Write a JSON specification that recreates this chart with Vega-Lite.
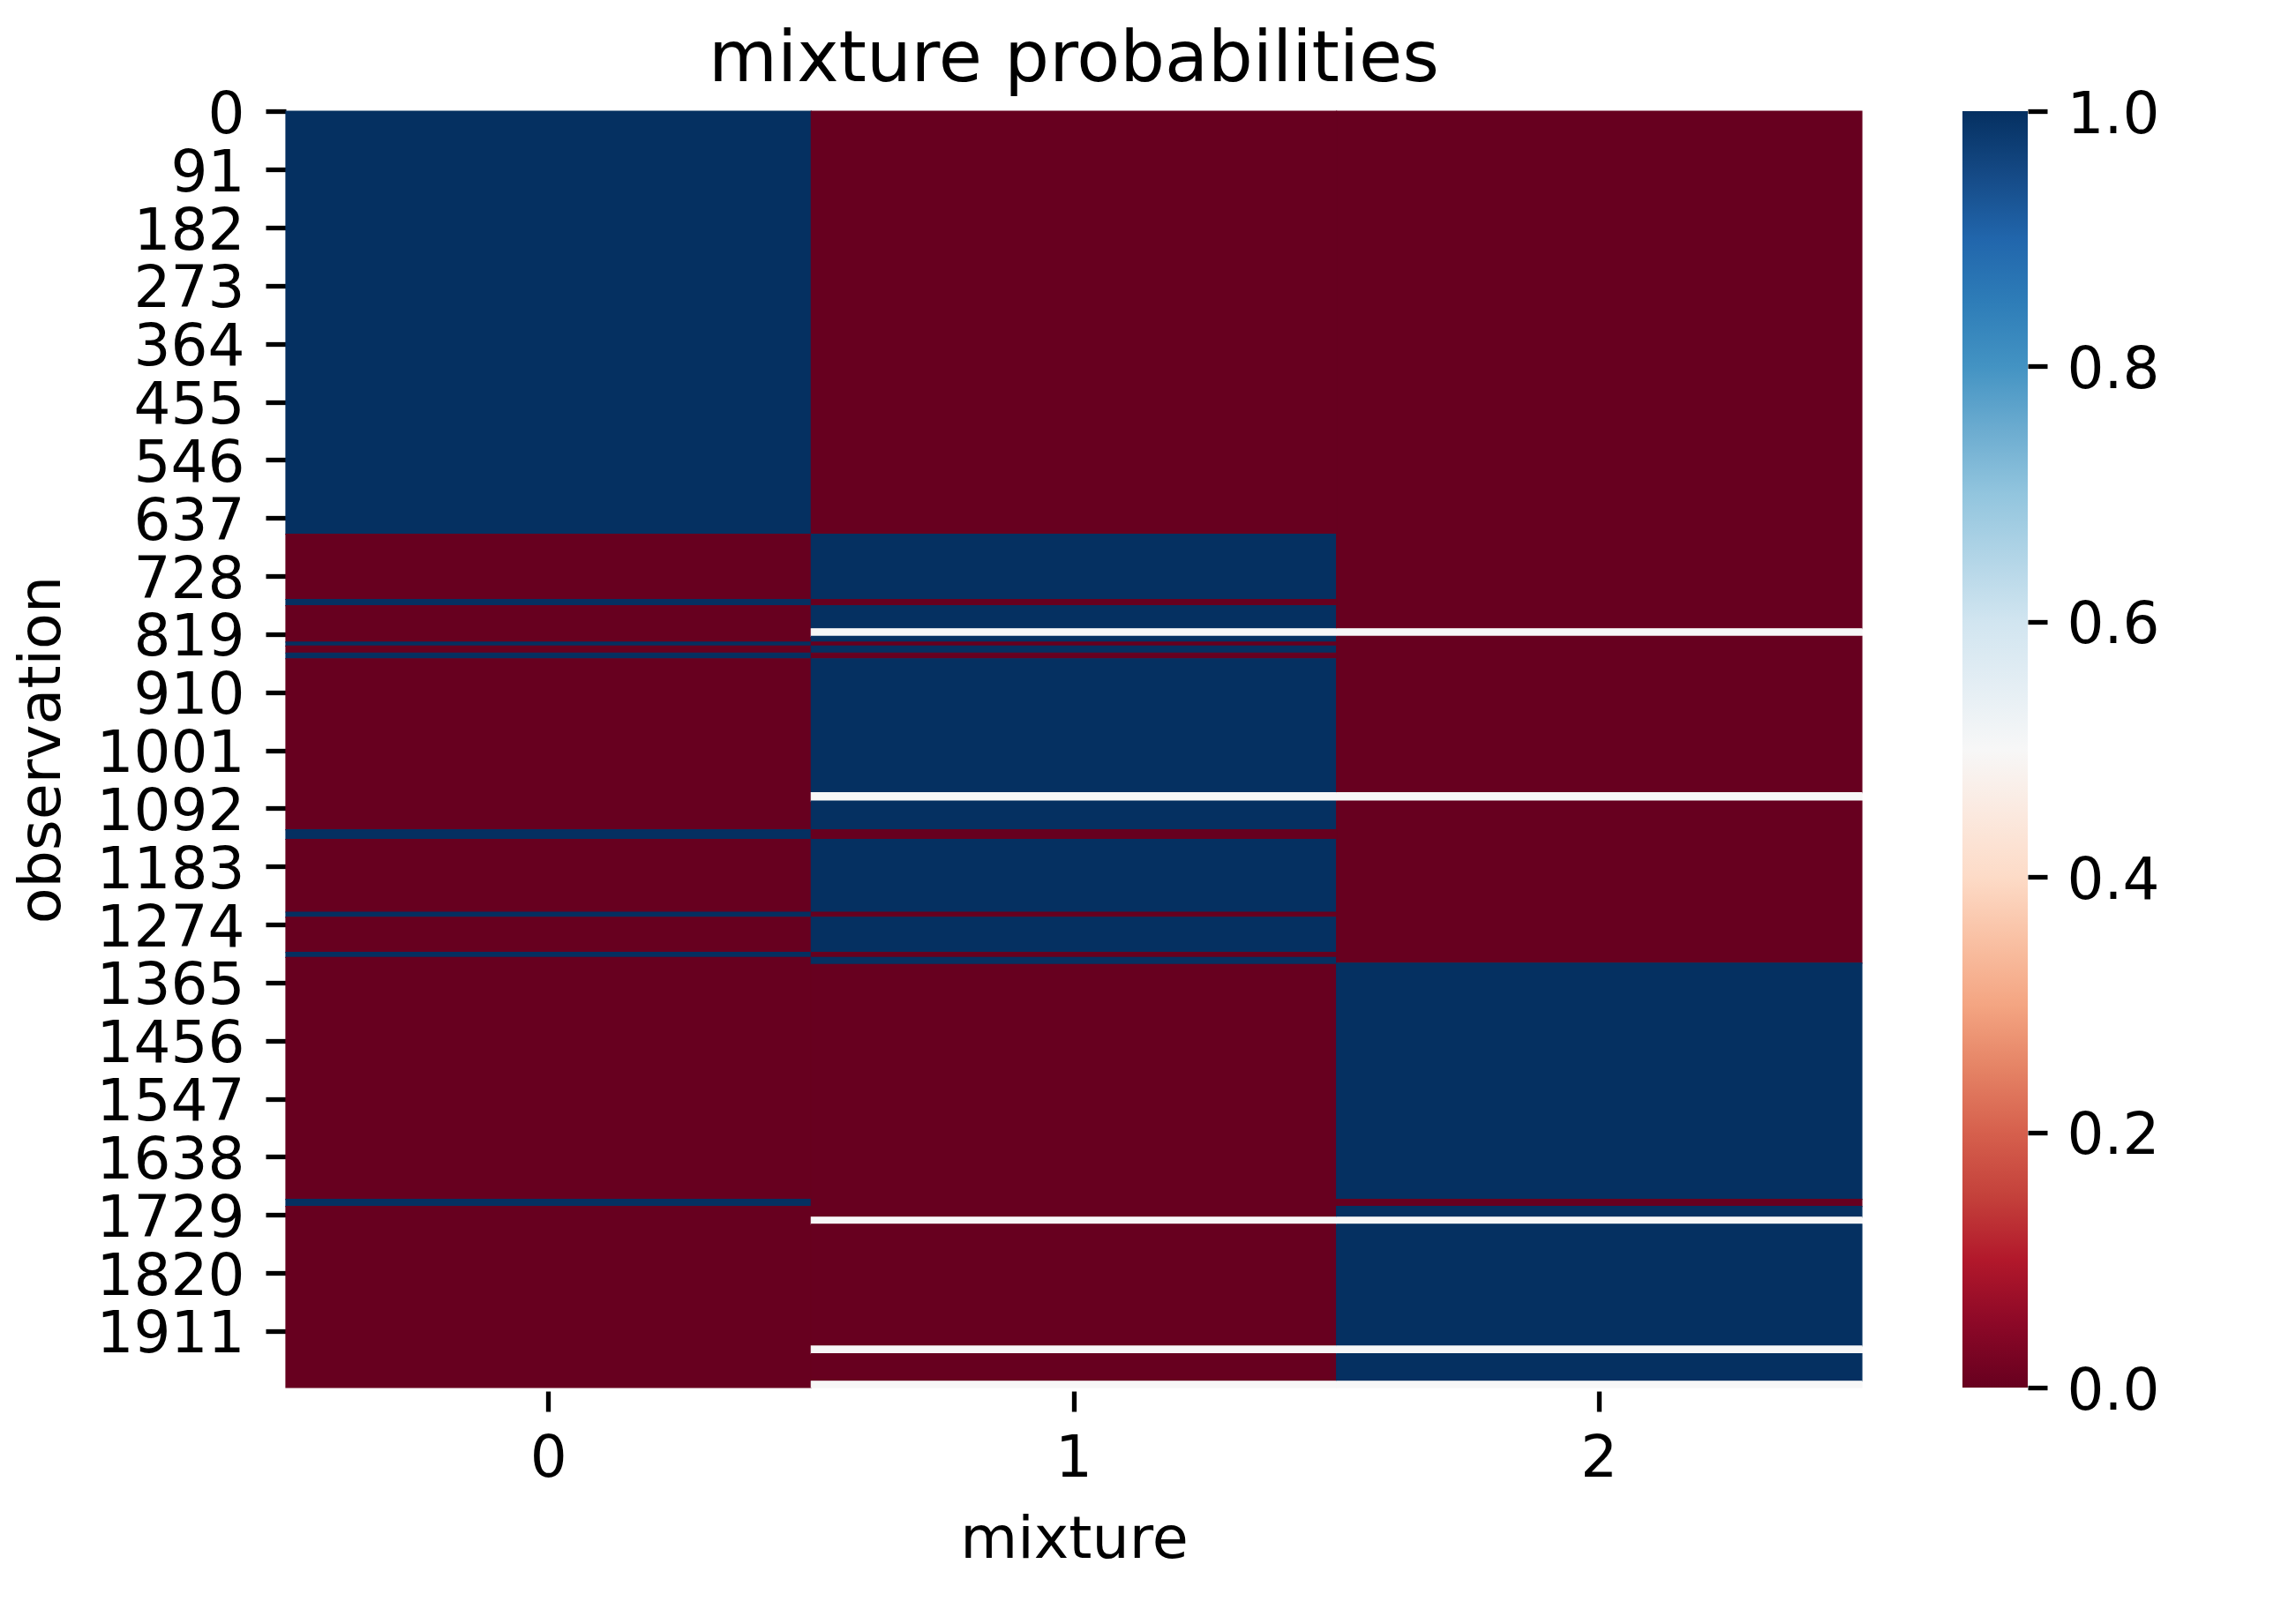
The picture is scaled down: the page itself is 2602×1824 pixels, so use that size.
{
  "$schema": "https://vega.github.io/schema/vega-lite/v6.json",
  "autosize": {"type": "none"},
  "padding": {"left": 324, "top": 126, "right": 492, "bottom": 251},
  "width": 1786,
  "height": 1447,
  "background": "white",
  "config": {
    "font": "DejaVu Sans",
    "view": {"stroke": null},
    "axis": {"grid": false, "domain": false, "labelColor": "black", "titleColor": "black", "tickColor": "black", "labelFont": "DejaVu Sans", "titleFont": "DejaVu Sans", "labelFontSize": 66, "titleFontSize": 66.7, "titleFontWeight": "normal", "tickSize": 23, "tickWidth": 5.3, "labelOverlap": false}
  },
  "title": {"text": "mixture probabilities", "fontSize": 80, "fontWeight": "normal", "font": "DejaVu Sans", "color": "black", "anchor": "middle", "frame": "group", "offset": -12},
  "data": {"values": [
    {"m": 0, "from": 0, "to": 663, "p": 1},
    {"m": 0, "from": 663, "to": 765, "p": 0},
    {"m": 0, "from": 765, "to": 775, "p": 1},
    {"m": 0, "from": 775, "to": 832, "p": 0},
    {"m": 0, "from": 832, "to": 838, "p": 1},
    {"m": 0, "from": 838, "to": 849, "p": 0},
    {"m": 0, "from": 849, "to": 858, "p": 1},
    {"m": 0, "from": 858, "to": 1126, "p": 0},
    {"m": 0, "from": 1126, "to": 1141, "p": 1},
    {"m": 0, "from": 1141, "to": 1255, "p": 0},
    {"m": 0, "from": 1255, "to": 1263, "p": 1},
    {"m": 0, "from": 1263, "to": 1318, "p": 0},
    {"m": 0, "from": 1318, "to": 1326, "p": 1},
    {"m": 0, "from": 1326, "to": 1705, "p": 0},
    {"m": 0, "from": 1705, "to": 1716, "p": 1},
    {"m": 0, "from": 1716, "to": 2000, "p": 0},
    {"m": 1, "from": 0, "to": 663, "p": 0},
    {"m": 1, "from": 663, "to": 765, "p": 1},
    {"m": 1, "from": 765, "to": 775, "p": 0},
    {"m": 1, "from": 775, "to": 811, "p": 1},
    {"m": 1, "from": 811, "to": 823, "p": 0.5},
    {"m": 1, "from": 823, "to": 832, "p": 1},
    {"m": 1, "from": 832, "to": 838, "p": 0},
    {"m": 1, "from": 838, "to": 849, "p": 1},
    {"m": 1, "from": 849, "to": 858, "p": 0},
    {"m": 1, "from": 858, "to": 1068, "p": 1},
    {"m": 1, "from": 1068, "to": 1081, "p": 0.5},
    {"m": 1, "from": 1081, "to": 1126, "p": 1},
    {"m": 1, "from": 1126, "to": 1141, "p": 0},
    {"m": 1, "from": 1141, "to": 1255, "p": 1},
    {"m": 1, "from": 1255, "to": 1263, "p": 0},
    {"m": 1, "from": 1263, "to": 1318, "p": 1},
    {"m": 1, "from": 1318, "to": 1326, "p": 0},
    {"m": 1, "from": 1326, "to": 1337, "p": 1},
    {"m": 1, "from": 1337, "to": 1733, "p": 0},
    {"m": 1, "from": 1733, "to": 1744, "p": 0.5},
    {"m": 1, "from": 1744, "to": 1935, "p": 0},
    {"m": 1, "from": 1935, "to": 1947, "p": 0.5},
    {"m": 1, "from": 1947, "to": 1990, "p": 0},
    {"m": 1, "from": 1990, "to": 2000, "p": 0.5},
    {"m": 2, "from": 0, "to": 811, "p": 0},
    {"m": 2, "from": 811, "to": 823, "p": 0.5},
    {"m": 2, "from": 823, "to": 1068, "p": 0},
    {"m": 2, "from": 1068, "to": 1081, "p": 0.5},
    {"m": 2, "from": 1081, "to": 1335, "p": 0},
    {"m": 2, "from": 1335, "to": 1705, "p": 1},
    {"m": 2, "from": 1705, "to": 1716, "p": 0},
    {"m": 2, "from": 1716, "to": 1733, "p": 1},
    {"m": 2, "from": 1733, "to": 1744, "p": 0.5},
    {"m": 2, "from": 1744, "to": 1935, "p": 1},
    {"m": 2, "from": 1935, "to": 1947, "p": 0.5},
    {"m": 2, "from": 1947, "to": 1990, "p": 1},
    {"m": 2, "from": 1990, "to": 2000, "p": 0.5}
  ]},
  "layer": [
    {
      "mark": {"type": "rect", "strokeWidth": 1.2, "stroke": {"expr": "scale('color', datum.p)"}},
      "encoding": {
        "x": {"field": "m", "type": "ordinal", "scale": {"paddingInner": 0, "paddingOuter": 0},
              "axis": {"title": "mixture", "labelAngle": 0, "offset": 4, "labelPadding": 21, "titlePadding": 26}},
        "y": {"field": "from", "type": "quantitative",
              "scale": {"domain": [0, 2000], "reverse": true, "nice": false, "zero": false},
              "axis": {"title": "observation", "values": [0.5, 91.5, 182.5, 273.5, 364.5, 455.5, 546.5, 637.5, 728.5, 819.5, 910.5, 1001.5, 1092.5, 1183.5, 1274.5, 1365.5, 1456.5, 1547.5, 1638.5, 1729.5, 1820.5, 1911.5],
                       "labelExpr": "format(floor(datum.value), 'd')", "labelPadding": 24, "labelOffset": 4, "titlePadding": 43}},
        "y2": {"field": "to"},
        "color": {"field": "p", "type": "quantitative",
                  "scale": {"type": "linear", "domain": [0, 0.1, 0.2, 0.3, 0.4, 0.5, 0.6, 0.7, 0.8, 0.9, 1],
                            "range": ["#67001f", "#b2182b", "#d6604d", "#f4a582", "#fddbc7", "#f7f7f7", "#d1e5f0", "#92c5de", "#4393c3", "#2166ac", "#053061"]},
                  "legend": {"type": "gradient", "orient": "none", "legendX": 1900, "legendY": 0, "direction": "vertical", "gradientLength": 1447, "gradientThickness": 74, "labelOpacity": 0, "labelFontSize": 1, "title": null, "gradientStrokeWidth": 0, "padding": 0}}
      }
    },
    {
      "mark": {"type": "rule", "opacity": 0},
      "encoding": {
        "y": {"field": "p", "type": "quantitative",
              "scale": {"domain": [0, 1], "nice": false, "zero": false},
              "axis": {"orient": "right", "offset": 188, "title": null, "values": [0, 0.2, 0.4, 0.6, 0.8, 1], "format": ".1f", "tickSize": 22, "labelPadding": 22, "labelOffset": 4}}
      }
    }
  ],
  "resolve": {"scale": {"y": "independent"}, "axis": {"y": "independent"}}
}
